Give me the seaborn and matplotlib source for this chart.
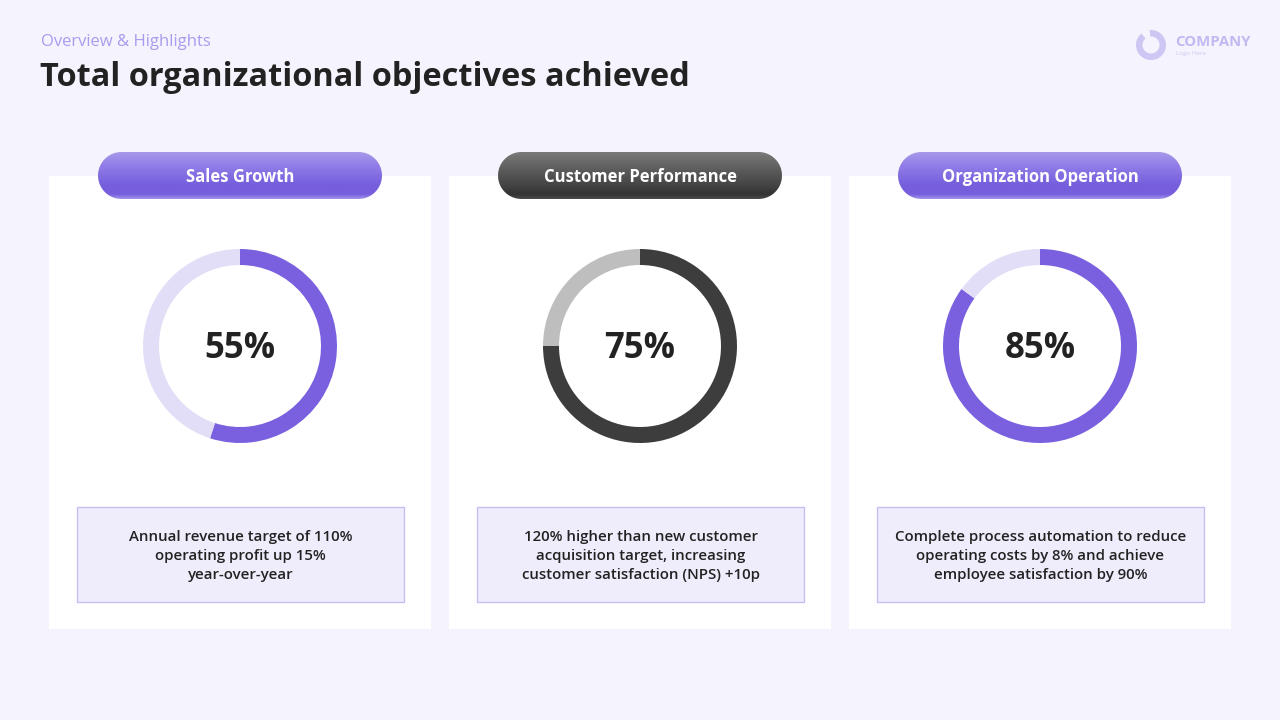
import numpy as np
import matplotlib
matplotlib.use("Agg")
import matplotlib.pyplot as plt
import seaborn as sns
from matplotlib.patches import Rectangle, Wedge, Polygon
from matplotlib.colors import LinearSegmentedColormap

# ---------------- data ----------------
subtitle = "Overview & Highlights"
title = "Total organizational objectives achieved"
categories = ["Sales Growth", "Customer Performance", "Organization Operation"]
values = [55, 75, 85]
descriptions = [
    "Annual revenue target of 110%\noperating profit up 15%\nyear-over-year",
    "120% higher than new customer\nacquisition target, increasing\ncustomer satisfaction (NPS) +10p",
    "Complete process automation to reduce\noperating costs by 8% and achieve\nemployee satisfaction by 90%",
]
logo_name = "COMPANY"
logo_sub = "Logo Here"

# ---------------- style ----------------
sns.set_theme(style="white")
FONT = ["Open Sans", "DejaVu Sans"]
plt.rcParams["font.family"] = FONT

BG = "#F5F3FD"
PURPLE = "#7A60DF"
PURPLE_LIGHT = "#E2DEF7"
DARK = "#3D3D3D"
GREY = "#BEBEBE"
TEXT = "#222222"

ring_colors = [(PURPLE, PURPLE_LIGHT), (DARK, GREY), (PURPLE, PURPLE_LIGHT)]
pill_grads = [
    ["#A898EC", "#8D78E6", "#765EDC", "#765EDC", "#A594EA"],
    ["#7A7A7A", "#5E5E5E", "#444444", "#333333", "#4A4A4A"],
    ["#A898EC", "#8D78E6", "#765EDC", "#765EDC", "#A594EA"],
]

W, H = 1280, 720
fig = plt.figure(figsize=(12.8, 7.2), dpi=100)
fig.patch.set_facecolor(BG)
ax = fig.add_axes([0, 0, 1, 1])
ax.set_xlim(0, W)
ax.set_ylim(H, 0)
ax.axis("off")
ax.set_facecolor(BG)

# header
ax.text(41, 42, subtitle, fontsize=12, color="#AA9BEE", va="center", ha="left")
ax.text(40, 78, title, fontsize=23.4, color=TEXT, fontweight="bold", va="center", ha="left")

# logo
ax.add_patch(Wedge((1151, 45), 15, -95, 230, width=6.5, facecolor="#CEC6F3", edgecolor="none"))
ax.text(1175, 42, logo_name, fontsize=10.7, fontweight="bold", color="#C3B8F2", va="center", ha="left")
ax.text(1176, 54, logo_sub, fontsize=4.5, color="#CFC7F3", va="center", ha="left")


def stadium(x0, y0, w, h):
    r = h / 2.0
    t1 = np.linspace(np.pi / 2, 3 * np.pi / 2, 40)
    left = np.column_stack([x0 + r + r * np.cos(t1), y0 + r - r * np.sin(t1)])
    t2 = np.linspace(-np.pi / 2, np.pi / 2, 40)
    right = np.column_stack([x0 + w - r + r * np.cos(t2), y0 + r - r * np.sin(t2)])
    return np.vstack([left, right])


centers = [240, 640, 1040]
for i, cx in enumerate(centers):
    # card
    ax.add_patch(Rectangle((cx - 191, 176), 382, 453, facecolor="white", edgecolor="none", zorder=1))
    # pill with gradient
    px0, py0, pw, ph = cx - 142, 152, 284, 47
    pill = Polygon(stadium(px0, py0, pw, ph), closed=True, facecolor="none",
                   edgecolor="none", zorder=3)
    ax.add_patch(pill)
    cmap = LinearSegmentedColormap.from_list(
        "g%d" % i, list(zip([0, 0.35, 0.7, 0.9, 1.0], pill_grads[i])))
    grad = np.linspace(0, 1, 200).reshape(-1, 1)
    im = ax.imshow(grad, cmap=cmap, extent=(px0, px0 + pw, py0 + ph, py0),
                   aspect="auto", zorder=3, interpolation="bilinear")
    im.set_clip_path(pill)
    ax.text(cx, py0 + ph / 2 + 2, categories[i], fontsize=12, fontweight="bold",
            color="white", ha="center", va="center", zorder=4)
    # description box
    ax.add_patch(Rectangle((cx - 163, 507), 327, 95, facecolor="#EFECFB",
                           edgecolor="#C9BEF3", linewidth=1, zorder=2))
    ax.text(cx + 0.5, 556, descriptions[i], fontsize=10.8, fontweight="semibold",
            color=TEXT, ha="center", va="center", linespacing=1.42, zorder=3)
    # donut
    r = 97
    dax = fig.add_axes([(cx - r - 2) / W, 1 - (346 + r + 2) / H, (2 * r + 4) / W, (2 * r + 4) / H])
    v = values[i]
    dax.pie([v, 100 - v], colors=list(ring_colors[i]), startangle=90, counterclock=False,
            radius=r / (r + 2), wedgeprops=dict(width=16 / (r + 2), edgecolor="none", linewidth=0))
    dax.set_xlim(-1, 1)
    dax.set_ylim(-1, 1)
    dax.set_aspect("equal")
    dax.axis("off")
    dax.text(0, -0.03, f"{v}%", fontsize=25, fontweight="bold", color=TEXT,
             ha="center", va="center")

fig.savefig("out.png", dpi=100, facecolor=BG)
